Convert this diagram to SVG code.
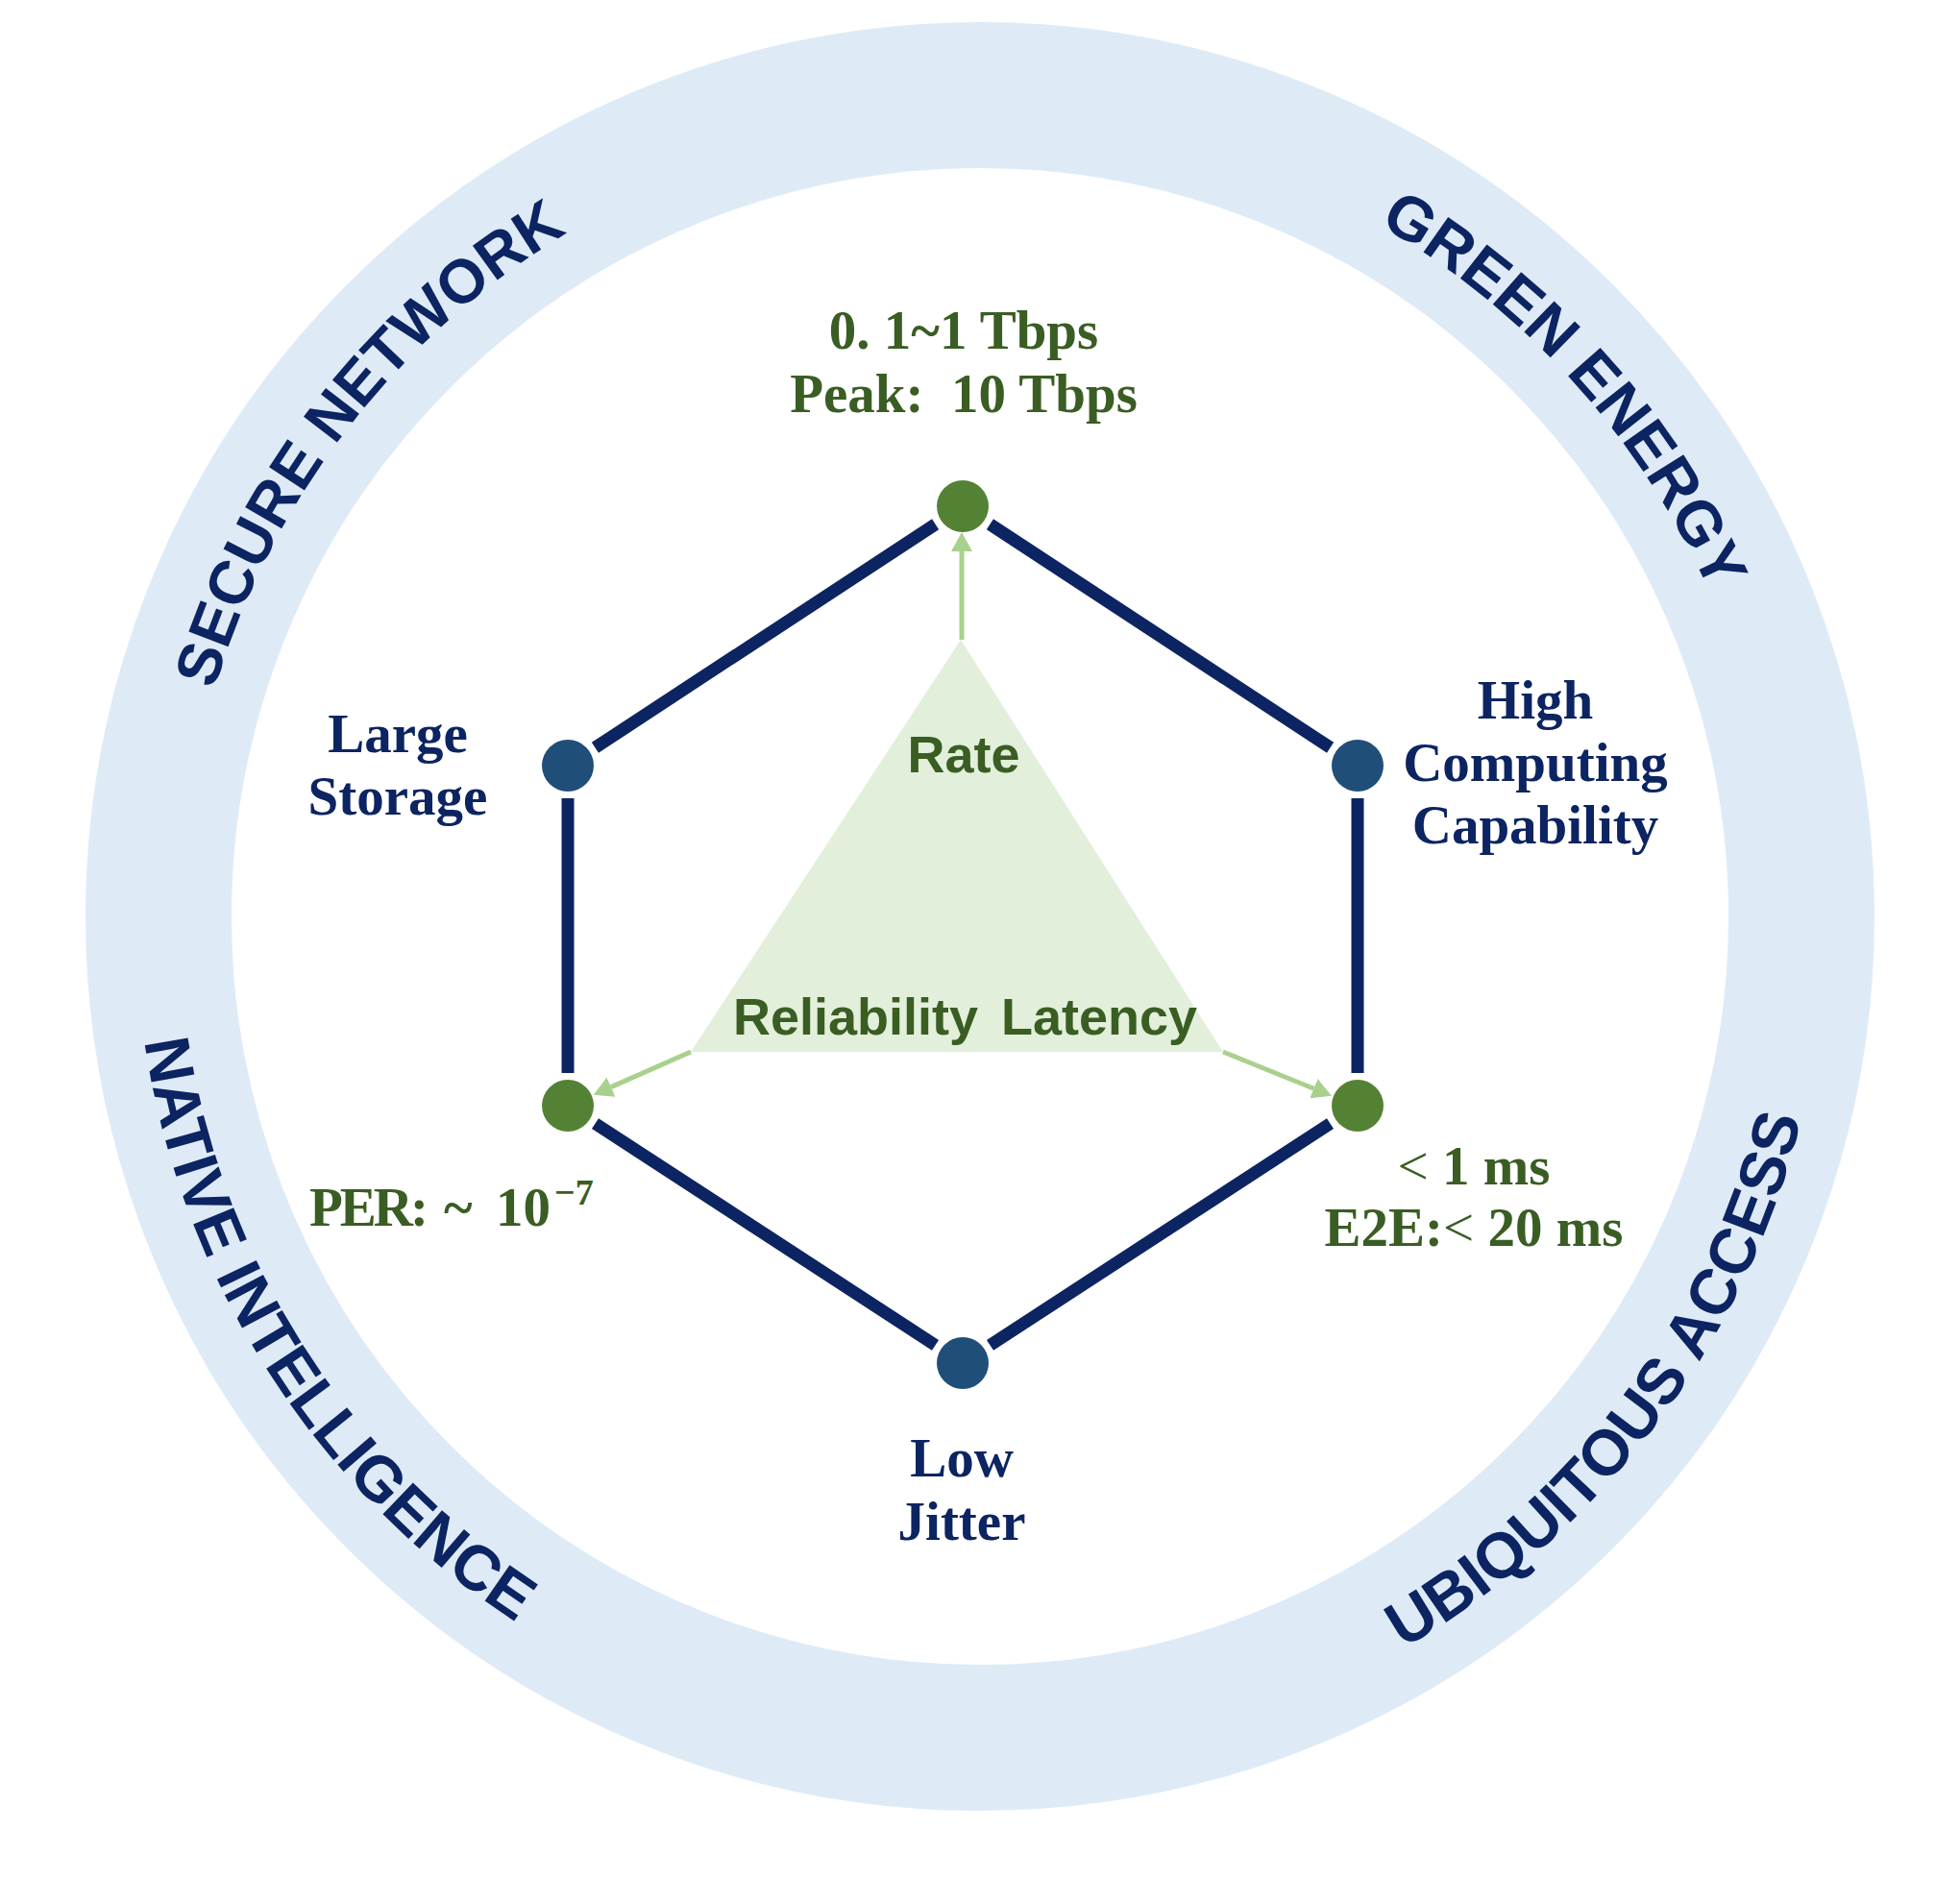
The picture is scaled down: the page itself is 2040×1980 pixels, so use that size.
<svg xmlns="http://www.w3.org/2000/svg" width="2040" height="1980" viewBox="0 0 2040 1980">
<style>
.ring-text{font-family:"Liberation Sans",Arial,sans-serif;font-weight:bold;font-size:65px;fill:#0c2461;}
.lbl{font-family:"Liberation Serif","Times New Roman",serif;font-weight:bold;font-size:57px;text-anchor:middle;}
.navy{fill:#0c2461}
.green{fill:#3a5d23}
.tri{font-family:"Liberation Sans",Arial,sans-serif;font-weight:bold;font-size:54px;fill:#3a5d23;}
.edge{stroke:#0c2461;stroke-width:13;fill:none}
.arrow{stroke:#a9d18e;stroke-width:5;fill:none;marker-end:url(#ah)}
.nb{fill:#1f4e79}
.ng{fill:#548235}
.thin{font-weight:normal}
</style>
<defs>
<marker id="ah" viewBox="0 0 20 22" refX="0" refY="11" markerWidth="20" markerHeight="22" markerUnits="userSpaceOnUse" orient="auto">
<path d="M0,0 L20,11 L0,22 z" fill="#a9d18e"/>
</marker>
<path id="topArc" d="M 201.6 809.7 A 831 831 0 0 1 1838.4 809.7"/>
<path id="botArc" d="M 154.3 1106.6 A 879 879 0 0 0 1885.7 1106.6"/>
<path id="botArc2" d="M 153.3 1106.8 A 880 880 0 0 0 1886.7 1106.8"/>
</defs>
<rect width="2040" height="1980" fill="#ffffff"/>
<g id="ring">
<circle cx="1020" cy="954" r="855" fill="none" stroke="#deebf7" stroke-width="152"/>
<text class="ring-text" style="font-size:64px" transform="rotate(-52.3 1020 954)"><textPath href="#topArc" startOffset="50%" text-anchor="middle">SECURE NETWORK</textPath></text>
<text class="ring-text" transform="rotate(48 1020 954)"><textPath href="#topArc" startOffset="50%" text-anchor="middle">GREEN ENERGY</textPath></text>
<text class="ring-text" style="font-size:66px" transform="rotate(57.4 1020 954)"><textPath href="#botArc" startOffset="50%" text-anchor="middle">NATIVE INTELLIGENCE</textPath></text>
<text class="ring-text" style="font-size:66.5px" transform="rotate(-53.1 1020 954)"><textPath href="#botArc2" startOffset="50%" text-anchor="middle">UBIQUITOUS ACCESS</textPath></text>
</g>
<g id="triangle">
<polygon points="1000,666 719,1095 1273,1095" fill="#e2efda"/>
<text class="tri" x="1003" y="804" text-anchor="middle">Rate</text>
<text class="tri" x="763" y="1077">Reliability</text>
<text class="tri" x="1042" y="1077">Latency</text>
</g>
<g id="connectors">
<line class="edge" x1="973.6" y1="545.7" x2="619.4" y2="778.3"/>
<line class="edge" x1="1030.4" y1="545.7" x2="1384.6" y2="778.3"/>
<line class="edge" x1="591" y1="831" x2="591" y2="1117"/>
<line class="edge" x1="1413" y1="831" x2="1413" y2="1117"/>
<line class="edge" x1="619.5" y1="1169.6" x2="973.5" y2="1400.4"/>
<line class="edge" x1="1030.5" y1="1400.4" x2="1384.5" y2="1169.6"/>
<line class="arrow" x1="1001" y1="666" x2="1001" y2="574"/>
<line class="arrow" x1="719" y1="1095" x2="636" y2="1131.6"/>
<line class="arrow" x1="1273" y1="1095" x2="1367.4" y2="1133.2"/>
</g>
<g id="node-rate">
<circle class="ng" cx="1002" cy="527" r="27"/>
<text class="lbl green" x="1003" y="363">0. 1~1 Tbps</text>
<text class="lbl green" x="1003" y="429">Peak:&#160; 10 Tbps</text>
</g>
<g id="node-storage">
<circle class="nb" cx="591" cy="797" r="27"/>
<text class="lbl navy" x="414" y="783">Large</text>
<text class="lbl navy" x="414" y="848">Storage</text>
</g>
<g id="node-computing">
<circle class="nb" cx="1413" cy="797" r="27"/>
<text class="lbl navy" x="1598" y="748">High</text>
<text class="lbl navy" x="1598" y="813">Computing</text>
<text class="lbl navy" x="1598" y="878">Capability</text>
</g>
<g id="node-reliability">
<circle class="ng" cx="591" cy="1151" r="27"/>
<text class="lbl green" style="text-anchor:start" y="1276"><tspan x="322" letter-spacing="-3">PER:</tspan><tspan x="462">~</tspan><tspan x="516">10</tspan><tspan x="577" dy="-22" style="font-size:38px">−7</tspan></text>
</g>
<g id="node-latency">
<circle class="ng" cx="1413" cy="1151" r="27"/>
<text class="lbl green" x="1534" y="1233"><tspan class="thin">&lt;</tspan> 1 ms</text>
<text class="lbl green" x="1534" y="1297">E2E:<tspan class="thin">&lt;</tspan> 20 ms</text>
</g>
<g id="node-jitter">
<circle class="nb" cx="1002" cy="1419" r="27"/>
<text class="lbl navy" x="1001" y="1537">Low</text>
<text class="lbl navy" x="1001" y="1603">Jitter</text>
</g>
</svg>
